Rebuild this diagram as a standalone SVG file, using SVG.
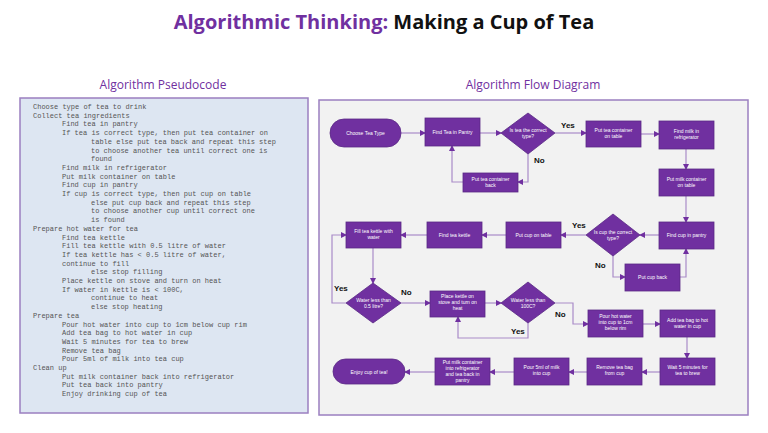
<svg xmlns="http://www.w3.org/2000/svg" width="768" height="433" viewBox="0 0 768 433">
<defs>
<marker id="ah" markerWidth="6" markerHeight="6" refX="5" refY="3" orient="auto" markerUnits="userSpaceOnUse"><path d="M0,0 L6,3 L0,6 z" fill="#7030a0"/></marker>
<style>
.n{fill:#7030a0;stroke:#5b2a85;stroke-width:0.8}
.t{fill:#fff;font-family:"Liberation Sans",Arial,sans-serif;font-size:5px;text-anchor:middle}
.c{fill:none;stroke:#a98bc8;stroke-width:1.2;marker-end:url(#ah)}
.lb{font-family:"Liberation Sans",Arial,sans-serif;font-size:8px;font-weight:bold;fill:#111}
.p{font-family:"Liberation Mono","Courier New",monospace;font-size:7px;fill:#555}
.h{font-family:"Open Sans","Liberation Sans",sans-serif;font-size:12px;fill:#7030a0;text-anchor:middle}
</style>
</defs>
<rect width="768" height="433" fill="#fff"/>
<text x="384" y="29" text-anchor="middle" font-family="Open Sans,Liberation Sans,sans-serif" font-size="20" font-weight="bold"><tspan fill="#7030a0">Algorithmic Thinking:</tspan><tspan fill="#111"> Making a Cup of Tea</tspan></text>
<text class="h" x="163" y="89">Algorithm Pseudocode</text>
<text class="h" x="533" y="89">Algorithm Flow Diagram</text>
<rect x="20" y="98" width="288" height="315" fill="#dde6f2" stroke="#9b7fc0" stroke-width="1.5"/>
<rect x="319" y="100" width="429" height="315" fill="#f2f2f2" stroke="#9b7fc0" stroke-width="1.5"/>
<g class="p">
<text x="33" y="109">Choose type of tea to drink</text>
<text x="33" y="117.7">Collect tea ingredients</text>
<text x="62" y="126.4">Find tea in pantry</text>
<text x="62" y="135.1">If tea is correct type, then put tea container on</text>
<text x="91" y="143.8">table else put tea back and repeat this step</text>
<text x="91" y="152.5">to choose another tea until correct one is</text>
<text x="91" y="161.2">found</text>
<text x="62" y="169.9">Find milk in refrigerator</text>
<text x="62" y="178.6">Put milk container on table</text>
<text x="62" y="187.3">Find cup in pantry</text>
<text x="62" y="196">If cup is correct type, then put cup on table</text>
<text x="91" y="204.7">else put cup back and repeat this step</text>
<text x="91" y="213.4">to choose another cup until correct one</text>
<text x="91" y="222.1">is found</text>
<text x="33" y="230.8">Prepare hot water for tea</text>
<text x="62" y="239.5">Find tea kettle</text>
<text x="62" y="248.2">Fill tea kettle with 0.5 litre of water</text>
<text x="62" y="256.9">If tea kettle has &lt; 0.5 litre of water,</text>
<text x="62" y="265.6">continue to fill</text>
<text x="91" y="274.3">else stop filling</text>
<text x="62" y="283">Place kettle on stove and turn on heat</text>
<text x="62" y="291.7">If water in kettle is &lt; 100C,</text>
<text x="91" y="300.4">continue to heat</text>
<text x="91" y="309.1">else stop heating</text>
<text x="33" y="317.8">Prepare tea</text>
<text x="62" y="326.5">Pour hot water into cup to 1cm below cup rim</text>
<text x="62" y="335.2">Add tea bag to hot water in cup</text>
<text x="62" y="343.9">Wait 5 minutes for tea to brew</text>
<text x="62" y="352.6">Remove tea bag</text>
<text x="62" y="361.3">Pour 5ml of milk into tea cup</text>
<text x="33" y="370">Clean up</text>
<text x="62" y="378.7">Put milk container back into refrigerator</text>
<text x="62" y="387.4">Put tea back into pantry</text>
<text x="62" y="396.1">Enjoy drinking cup of tea</text>
</g>
<g id="connectors">
<path class="c" d="M401,133 H425"/>
<path class="c" d="M480,133 H501"/>
<path class="c" d="M555,133 H586"/>
<path class="c" d="M641,134 H659"/>
<path class="c" d="M686,149 V169"/>
<path class="c" d="M528,154 V182 H518"/>
<path class="c" d="M463,182 H452 V146"/>
<path class="c" d="M686,196 V222"/>
<path class="c" d="M659,235 H640"/>
<path class="c" d="M613,256 V277 H625"/>
<path class="c" d="M680,277 H686 V249"/>
<path class="c" d="M586,235 H561"/>
<path class="c" d="M506,235 H482"/>
<path class="c" d="M427,235 H401"/>
<path class="c" d="M373,248 V283"/>
<path class="c" d="M346,303 H332 V235 H346"/>
<path class="c" d="M401,303 H430"/>
<path class="c" d="M485,303 H501"/>
<path class="c" d="M528,323 V338 H458 V317"/>
<path class="c" d="M555,303 H573 V324 H588"/>
<path class="c" d="M643,324 H660"/>
<path class="c" d="M687,337 V358"/>
<path class="c" d="M660,372 H642"/>
<path class="c" d="M587,372 H569"/>
<path class="c" d="M514,372 H490"/>
<path class="c" d="M435,372 H405"/>
</g>
<g class="lb">
<text x="561" y="128">Yes</text>
<text x="534" y="163">No</text>
<text x="572" y="228">Yes</text>
<text x="595" y="268">No</text>
<text x="334" y="291">Yes</text>
<text x="401" y="295">No</text>
<text x="555" y="317">No</text>
<text x="511" y="334">Yes</text>
</g>
<g id="n1"><rect class="n" x="330" y="119" width="71" height="28" rx="14"/><text class="t" x="365.5" y="135">Choose Tea Type</text></g>
<g id="n2"><rect class="n" x="425" y="118" width="55" height="28"/><text class="t" x="452.5" y="134">Find Tea in Pantry</text></g>
<g id="n3"><path class="n" d="M528,113 L555,133 L528,154 L501,133 z"/><text class="t" x="528" y="132">Is tea the correct</text><text class="t" x="528" y="138">type?</text></g>
<g id="n4"><rect class="n" x="586" y="121" width="55" height="26"/><text class="t" x="613.5" y="132">Put tea container</text><text class="t" x="613.5" y="138">on table</text></g>
<g id="n5"><rect class="n" x="659" y="121" width="55" height="28"/><text class="t" x="686.5" y="133">Find milk in</text><text class="t" x="686.5" y="139">refrigerator</text></g>
<g id="n6"><rect class="n" x="463" y="173" width="55" height="19"/><text class="t" x="490.5" y="181">Put tea container</text><text class="t" x="490.5" y="187">back</text></g>
<g id="n7"><rect class="n" x="659" y="169" width="55" height="27"/><text class="t" x="686.5" y="181">Put milk container</text><text class="t" x="686.5" y="187">on table</text></g>
<g id="n8"><rect class="n" x="659" y="222" width="55" height="27"/><text class="t" x="686.5" y="237">Find cup in pantry</text></g>
<g id="n9"><path class="n" d="M613,214 L640,235 L613,256 L586,235 z"/><text class="t" x="613" y="234">Is cup the correct</text><text class="t" x="613" y="240">type?</text></g>
<g id="n10"><rect class="n" x="625" y="264" width="55" height="27"/><text class="t" x="652.5" y="279">Put cup back</text></g>
<g id="n11"><rect class="n" x="506" y="222" width="55" height="26"/><text class="t" x="533.5" y="237">Put cup on table</text></g>
<g id="n12"><rect class="n" x="427" y="222" width="55" height="26"/><text class="t" x="454.5" y="237">Find tea kettle</text></g>
<g id="n13"><rect class="n" x="346" y="222" width="55" height="26"/><text class="t" x="373.5" y="233">Fill tea kettle with</text><text class="t" x="373.5" y="239">water</text></g>
<g id="n14"><path class="n" d="M373,283 L401,303 L373,323 L346,303 z"/><text class="t" x="373.5" y="302">Water less than</text><text class="t" x="373.5" y="308">0.5 litre?</text></g>
<g id="n15"><rect class="n" x="430" y="291" width="55" height="26"/><text class="t" x="457.5" y="298">Place kettle on</text><text class="t" x="457.5" y="304">stove and turn on</text><text class="t" x="457.5" y="310">heat</text></g>
<g id="n16"><path class="n" d="M528,282 L555,303 L528,323 L501,303 z"/><text class="t" x="528" y="302">Water less than</text><text class="t" x="528" y="308">100C?</text></g>
<g id="n17"><rect class="n" x="588" y="310" width="55" height="27"/><text class="t" x="615.5" y="318">Pour hot water</text><text class="t" x="615.5" y="324">into cup to 1cm</text><text class="t" x="615.5" y="330">below rim</text></g>
<g id="n18"><rect class="n" x="660" y="310" width="55" height="27"/><text class="t" x="687.5" y="322">Add tea bag to hot</text><text class="t" x="687.5" y="328">water in cup</text></g>
<g id="n19"><rect class="n" x="660" y="358" width="55" height="27"/><text class="t" x="687.5" y="369">Wait 5 minutes for</text><text class="t" x="687.5" y="375">tea to brew</text></g>
<g id="n20"><rect class="n" x="587" y="358" width="55" height="27"/><text class="t" x="614.5" y="369">Remove tea bag</text><text class="t" x="614.5" y="375">from cup</text></g>
<g id="n21"><rect class="n" x="514" y="358" width="55" height="27"/><text class="t" x="541.5" y="369">Pour 5ml of milk</text><text class="t" x="541.5" y="375">into cup</text></g>
<g id="n22"><rect class="n" x="435" y="358" width="55" height="27"/><text class="t" x="462.5" y="363.5">Put milk container</text><text class="t" x="462.5" y="369.5">into refrigerator</text><text class="t" x="462.5" y="375.5">and tea back in</text><text class="t" x="462.5" y="381.5">pantry</text></g>
<g id="n23"><rect class="n" x="333" y="359" width="72" height="25" rx="12.5"/><text class="t" x="369" y="373.5">Enjoy cup of tea!</text></g>
</svg>
